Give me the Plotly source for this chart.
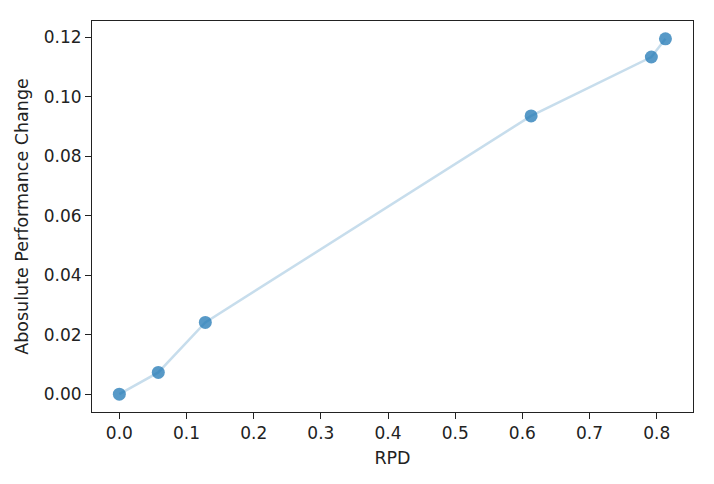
import plotly.graph_objects as go

rpd = [0.0, 0.058, 0.128, 0.613, 0.792, 0.813]
perf_change = [0.0, 0.0073, 0.0241, 0.0935, 0.1133, 0.1194]

x_ticks = [0.0, 0.1, 0.2, 0.3, 0.4, 0.5, 0.6, 0.7, 0.8]
y_ticks = [0.00, 0.02, 0.04, 0.06, 0.08, 0.10, 0.12]

fig = go.Figure()
# faint connecting line
fig.add_trace(go.Scatter(x=rpd, y=perf_change, mode="lines",
                         line=dict(color="rgba(31,119,180,0.25)", width=2.5),
                         showlegend=False, hoverinfo="skip"))
fig.add_trace(go.Scatter(x=rpd, y=perf_change, mode="markers",
                         marker=dict(color="rgba(31,119,180,0.75)", size=13),
                         showlegend=False))

axis_style = dict(showgrid=False, zeroline=False, showline=True, mirror=True,
                  linecolor="#222222", linewidth=1, ticks="outside", ticklen=6,
                  tickcolor="#222222", tickfont=dict(size=17, color="#222222"))

fig.update_xaxes(range=[-0.0407, 0.854], tickvals=x_ticks,
                 ticktext=[f"{v:.1f}" for v in x_ticks],
                 title=dict(text="RPD", font=dict(size=17.5, color="#222222"), standoff=9),
                 **axis_style)
fig.update_yaxes(range=[-0.006, 0.1254], tickvals=y_ticks,
                 ticktext=[f"{v:.2f}" for v in y_ticks],
                 title=dict(text="Abosulute Performance Change",
                            font=dict(size=17.5, color="#222222"), standoff=10),
                 **axis_style)

# page body adds an 8px offset, margins compensate for it
fig.update_layout(width=714, height=484, plot_bgcolor="white", paper_bgcolor="white",
                  margin=dict(l=84, r=29, t=13, b=80),
                  font=dict(family="DejaVu Sans"))

fig.write_html("out.html")
